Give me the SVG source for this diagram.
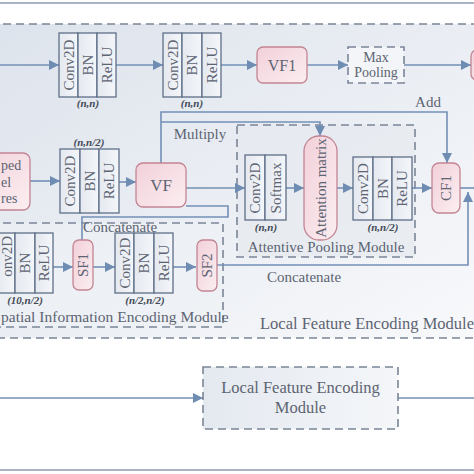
<svg xmlns="http://www.w3.org/2000/svg" width="474" height="474" viewBox="0 0 474 474">
<defs>
<linearGradient id="bg" x1="0" y1="0" x2="1" y2="1">
<stop offset="0" stop-color="#dde3ec"/><stop offset="0.6" stop-color="#edf0f5"/><stop offset="1" stop-color="#f8f9fb"/>
</linearGradient>
<linearGradient id="blk" x1="0" y1="0" x2="1" y2="0">
<stop offset="0" stop-color="#e4e9f0"/><stop offset="1" stop-color="#f4f6f9"/>
</linearGradient>
<linearGradient id="pink" x1="0" y1="0" x2="1" y2="1">
<stop offset="0" stop-color="#f2d0da"/><stop offset="1" stop-color="#fbeef1"/>
</linearGradient>
<marker id="ah" viewBox="0 0 10 10" refX="10" refY="5" markerWidth="10" markerHeight="10" markerUnits="userSpaceOnUse" orient="auto">
<path d="M0,0 L10,5 L0,10 z" fill="#6f8db3"/>
</marker>
</defs>
<style>
.t{font-family:"Liberation Serif","Times New Roman",serif;fill:#5d6472}
.r{font-size:15px;text-anchor:middle;dominant-baseline:central}
.lab{font-size:11px;font-style:italic;font-weight:bold;text-anchor:middle;fill:#444b58}
.cell{fill:url(#blk);stroke:#5f6f88;stroke-width:1.3}
.pk{fill:url(#pink);stroke:#c28593;stroke-width:1.3}
.dash{fill:none;stroke:#7a8596;stroke-width:1.6;stroke-dasharray:8 5}
.ln{fill:none;stroke:#7390b6;stroke-width:1.6}
.ar{marker-end:url(#ah)}
.frame{fill:none;stroke:#8e9bb0;stroke-width:1.5}
</style>
<rect width="474" height="474" fill="#ffffff"/>
<line class="frame" x1="0" y1="3" x2="474" y2="3"/>
<line class="frame" x1="0" y1="470" x2="474" y2="470"/>

<g id="lfe-module">
<rect x="-10" y="24" width="494" height="314" fill="url(#bg)"/>
<rect class="dash" x="-10" y="24" width="494" height="314"/>
<text class="t" x="260" y="329" font-size="16.5">Local Feature Encoding Module</text>
</g>

<g id="siem-module">
<rect x="-10" y="223" width="233" height="104" fill="#eef1f5" opacity="0.6"/>
<rect class="dash" x="-10" y="223" width="233" height="104"/>
<text class="t" x="1" y="322" font-size="15.5">patial Information Encoding Module</text>
</g>

<g id="apm-module">
<rect x="237" y="125" width="178" height="132" fill="#e6eaf0" opacity="0.7"/>
<rect class="dash" x="237" y="125" width="178" height="132"/>
<text class="t" x="326" y="252" font-size="15" text-anchor="middle">Attentive Pooling Module</text>
</g>

<g id="connectors">
<path class="ln ar" d="M0,65 H59"/>
<path class="ln ar" d="M116,65 H163"/>
<path class="ln ar" d="M221,65 H257"/>
<path class="ln ar" d="M307,65 H348"/>
<path class="ln ar" d="M404,65 H471"/>
<path class="ln ar" d="M30,181 H60"/>
<path class="ln ar" d="M119,182 H136"/>
<path class="ln ar" d="M186,188 H245"/>
<path class="ln ar" d="M161,163 V112 H447 V163"/>
<path class="ln ar" d="M161,122 H320 V136"/>
<path class="ln ar" d="M286,188 H304"/>
<path class="ln ar" d="M337,188 H353"/>
<path class="ln ar" d="M412,188 H432"/>
<path class="ln" d="M460,188 H474"/>
<path class="ln ar" d="M217,265 H468 V192"/>
<path class="ln ar" d="M53,267 H73"/>
<path class="ln ar" d="M93,267 H115"/>
<path class="ln ar" d="M173,267 H196"/>
<path class="ln" d="M82,240 V217 H228 V206 H186"/>
<path class="ln ar" d="M0,398 H203"/>
<path class="ln" d="M398,398 H474"/>
<text class="t" x="428" y="107" font-size="15" text-anchor="middle">Add</text>
<text class="t" x="200" y="139" font-size="15" text-anchor="middle">Multiply</text>
<text class="t" x="120" y="232" font-size="15" text-anchor="middle">Concatenate</text>
<text class="t" x="304" y="282" font-size="15" text-anchor="middle">Concatenate</text>
</g>

<g id="block1">
<rect class="cell" x="59" y="33" width="19" height="64"/><rect class="cell" x="78" y="33" width="19" height="64"/><rect class="cell" x="97" y="33" width="19" height="64"/>
<text class="t r" transform="translate(68.5,65) rotate(-90)">Conv2D</text>
<text class="t r" transform="translate(87.5,65) rotate(-90)">BN</text>
<text class="t r" transform="translate(106.5,65) rotate(-90)">ReLU</text>
<text class="t lab" x="88" y="107">(n,n)</text>
</g>
<g id="block2">
<rect class="cell" x="163" y="33" width="19" height="64"/><rect class="cell" x="182" y="33" width="20" height="64"/><rect class="cell" x="202" y="33" width="19" height="64"/>
<text class="t r" transform="translate(172.5,65) rotate(-90)">Conv2D</text>
<text class="t r" transform="translate(192,65) rotate(-90)">BN</text>
<text class="t r" transform="translate(211.5,65) rotate(-90)">ReLU</text>
<text class="t lab" x="192" y="107">(n,n)</text>
</g>
<g id="vf1">
<rect class="pk" x="257" y="47" width="50" height="36" rx="6"/>
<text class="t" x="282" y="70.5" font-size="16" text-anchor="middle">VF1</text>
</g>
<g id="maxpool">
<rect x="348" y="47" width="56" height="36" fill="#f3f5f8"/>
<rect class="dash" x="348" y="47" width="56" height="36" stroke-dasharray="6 4"/>
<text class="t" x="376" y="62" font-size="14" text-anchor="middle">Max</text>
<text class="t" x="376" y="77" font-size="14" text-anchor="middle">Pooling</text>
</g>
<g id="right-node">
<rect class="pk" x="471" y="50" width="30" height="30" rx="6"/>
</g>
<g id="input-node">
<rect class="pk" x="-40" y="153" width="70" height="57" rx="7"/>
<text class="t" x="1" y="170" font-size="14">ped</text>
<text class="t" x="1" y="187" font-size="14">el</text>
<text class="t" x="1" y="203" font-size="14">res</text>
</g>
<g id="block3">
<rect class="cell" x="60" y="149" width="20" height="64"/><rect class="cell" x="80" y="149" width="19" height="64"/><rect class="cell" x="99" y="149" width="20" height="64"/>
<text class="t r" transform="translate(70,181) rotate(-90)">Conv2D</text>
<text class="t r" transform="translate(89.5,181) rotate(-90)">BN</text>
<text class="t r" transform="translate(109,181) rotate(-90)">ReLU</text>
<text class="t lab" x="89" y="146">(n,n/2)</text>
</g>
<g id="vf">
<rect class="pk" x="136" y="163" width="50" height="44" rx="7"/>
<text class="t" x="161" y="191" font-size="17" text-anchor="middle">VF</text>
</g>
<g id="block4">
<rect class="cell" x="245" y="155" width="20" height="65"/><rect class="cell" x="265" y="155" width="21" height="65"/>
<text class="t r" transform="translate(255,188) rotate(-90)">Conv2D</text>
<text class="t r" transform="translate(275.5,188) rotate(-90)">Softmax</text>
<text class="t lab" x="266" y="231">(n,n)</text>
</g>
<g id="attention">
<rect class="pk" x="304" y="136" width="33" height="104" rx="15"/>
<text class="t r" font-size="15.5" transform="translate(320.5,188) rotate(-90)">Attention matrix</text>
</g>
<g id="block5">
<rect class="cell" x="353" y="157" width="20" height="63"/><rect class="cell" x="373" y="157" width="19" height="63"/><rect class="cell" x="392" y="157" width="20" height="63"/>
<text class="t r" transform="translate(363,188.5) rotate(-90)">Conv2D</text>
<text class="t r" transform="translate(382.5,188.5) rotate(-90)">BN</text>
<text class="t r" transform="translate(402,188.5) rotate(-90)">ReLU</text>
<text class="t lab" x="383" y="231">(n,n/2)</text>
</g>
<g id="cf1">
<rect class="pk" x="432" y="163" width="28" height="50" rx="7"/>
<text class="t r" font-size="14" transform="translate(446,188) rotate(-90)">CF1</text>
</g>
<g id="block6">
<rect class="cell" x="-4" y="233" width="19" height="60"/><rect class="cell" x="15" y="233" width="20" height="60"/><rect class="cell" x="35" y="233" width="18" height="60"/>
<text class="t" font-size="15" text-anchor="end" dominant-baseline="central" transform="translate(7,236) rotate(-90)">onv2D</text>
<text class="t r" transform="translate(25,263) rotate(-90)">BN</text>
<text class="t r" transform="translate(44,263) rotate(-90)">ReLU</text>
<text class="t lab" x="25" y="304">(10,n/2)</text>
</g>
<g id="sf1">
<rect class="pk" x="73" y="240" width="20" height="50" rx="6"/>
<text class="t r" font-size="14" transform="translate(83,265) rotate(-90)">SF1</text>
</g>
<g id="block7">
<rect class="cell" x="115" y="233" width="19" height="60"/><rect class="cell" x="134" y="233" width="20" height="60"/><rect class="cell" x="154" y="233" width="19" height="60"/>
<text class="t r" transform="translate(124.5,263) rotate(-90)">Conv2D</text>
<text class="t r" transform="translate(144,263) rotate(-90)">BN</text>
<text class="t r" transform="translate(163.5,263) rotate(-90)">ReLU</text>
<text class="t lab" x="145" y="304">(n/2,n/2)</text>
</g>
<g id="sf2">
<rect class="pk" x="197" y="240" width="20" height="51" rx="6"/>
<text class="t r" font-size="14" transform="translate(207,265.5) rotate(-90)">SF2</text>
</g>
<g id="lfe-box">
<rect x="203" y="367" width="195" height="62" fill="url(#blk)"/>
<rect class="dash" x="203" y="367" width="195" height="62"/>
<text class="t" x="300.5" y="393" font-size="16.5" text-anchor="middle">Local Feature Encoding</text>
<text class="t" x="300.5" y="413" font-size="16.5" text-anchor="middle">Module</text>
</g>
</svg>
